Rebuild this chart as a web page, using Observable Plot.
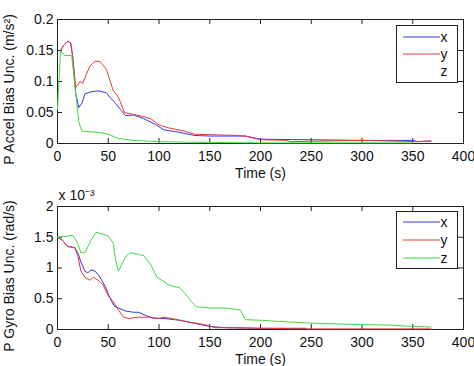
<!DOCTYPE html>
<html>
<head>
<meta charset="utf-8">
<script src="https://cdn.jsdelivr.net/npm/d3@7"></script>
<script src="https://cdn.jsdelivr.net/npm/@observablehq/plot@0.6"></script>
<style>
  html, body { margin: 0; padding: 0; background: #fff; }
  #chart { width: 474px; }
  #chart svg { display: block; }
</style>
</head>
<body>
<div id="chart"></div>
<script>
// ---- Data ----
const accelX_t = [3, 6, 10, 13, 15, 18, 21, 24, 27, 32, 40, 48, 53, 57, 62, 67, 75, 85, 95, 105, 120, 135, 150, 185, 200, 250, 300, 350, 355, 368];
const accelX_v = [0.15, 0.158, 0.165, 0.162, 0.14, 0.08, 0.058, 0.065, 0.08, 0.083, 0.085, 0.082, 0.072, 0.065, 0.055, 0.045, 0.046, 0.04, 0.032, 0.022, 0.018, 0.013, 0.012, 0.012, 0.007, 0.006, 0.005, 0.005, 0.003, 0.004];
const accelY_t = [3, 6, 10, 13, 15, 18, 22, 25, 28, 32, 37, 42, 48, 55, 60, 66, 75, 85, 92, 100, 110, 125, 135, 175, 185, 200, 225, 230, 300, 355, 368];
const accelY_v = [0.15, 0.158, 0.165, 0.162, 0.14, 0.09, 0.1, 0.097, 0.11, 0.125, 0.133, 0.132, 0.12, 0.085, 0.075, 0.05, 0.047, 0.043, 0.04, 0.03, 0.025, 0.02, 0.015, 0.013, 0.012, 0.006, 0.005, 0.003, 0.005, 0.003, 0.004];
const accelZ_t = [0, 3, 7, 14, 16, 18, 21, 24, 40, 50, 60, 75, 100, 130, 200, 350];
const accelZ_v = [0.055, 0.15, 0.142, 0.142, 0.11, 0.08, 0.035, 0.02, 0.018, 0.015, 0.008, 0.005, 0.003, 0.002, 0.001, 0.001];

// gyro values in units of 1e-3 rad/s
const gyroX_t = [0, 5, 10, 17, 20, 23, 27, 30, 33, 37, 42, 47, 52, 56, 60, 67, 75, 80, 88, 95, 105, 120, 135, 150, 165, 200, 245];
const gyroX_v = [1.5, 1.45, 1.35, 1.33, 1.25, 1.1, 0.95, 0.92, 0.97, 0.95, 0.85, 0.7, 0.5, 0.38, 0.35, 0.3, 0.28, 0.28, 0.22, 0.18, 0.18, 0.15, 0.1, 0.05, 0.03, 0.02, 0.02];
const gyroY_t = [0, 5, 10, 17, 20, 23, 27, 32, 35, 40, 45, 50, 55, 60, 65, 70, 80, 90, 100, 105, 115, 130, 145, 155, 200, 250, 368];
const gyroY_v = [1.5, 1.45, 1.35, 1.33, 1.2, 0.95, 0.85, 0.8, 0.85, 0.8, 0.72, 0.55, 0.45, 0.32, 0.2, 0.18, 0.2, 0.2, 0.18, 0.2, 0.17, 0.12, 0.08, 0.03, 0.02, 0.01, 0.01];
const gyroZ_t = [0, 10, 15, 20, 23, 27, 33, 38, 45, 50, 55, 57, 60, 63, 68, 72, 80, 85, 92, 98, 103, 110, 120, 125, 132, 137, 150, 165, 180, 185, 200, 230, 255, 275, 300, 330, 350, 368];
const gyroZ_v = [1.5, 1.52, 1.53, 1.4, 1.25, 1.25, 1.45, 1.58, 1.55, 1.52, 1.4, 1.15, 0.95, 1.05, 1.2, 1.25, 1.22, 1.2, 1.05, 0.85, 0.8, 0.72, 0.68, 0.6, 0.45, 0.37, 0.35, 0.35, 0.32, 0.16, 0.15, 0.12, 0.1, 0.09, 0.08, 0.07, 0.05, 0.04];

const xTicks = [0, 50, 100, 150, 200, 250, 300, 350, 400];
const accelTicks = [0, 0.05, 0.1, 0.15, 0.2];
const gyroTicks = [0, 0.5, 1, 1.5, 2];
const seriesNames = ["x", "y", "z"];
const colors = {x: "#3535e6", y: "#e63a3a", z: "#3fdc3f"};

function rows(t, v, s) { return t.map((d, i) => ({t: d, v: v[i], s})); }

const FONT = "Liberation Sans, Arial, Helvetica, sans-serif";

function panel({data, yDomain, yTicks, yLabel, labelDy, height, marginTop, marginBottom, legendTop, legendRows, legendShow, exponent}) {
  const W = 474, mL = 57, mR = 11;
  const frameH = height - marginTop - marginBottom;
  const frameW = W - mL - mR;
  const fmt = d => String(+d.toFixed(3));
  const marks = [
    Plot.frame({stroke: "#222", strokeWidth: 1}),
    // inward ticks bottom / top
    Plot.tickX(xTicks, {x: d => d, insetTop: frameH - 5, stroke: "#222"}),
    Plot.tickX(xTicks, {x: d => d, insetBottom: frameH - 5, stroke: "#222"}),
    // inward ticks left / right
    Plot.tickY(yTicks, {y: d => d, insetRight: frameW - 5, stroke: "#222"}),
    Plot.tickY(yTicks, {y: d => d, insetLeft: frameW - 5, stroke: "#222"}),
    Plot.axisX({ticks: xTicks, tickSize: 0, tickPadding: 8, tickFormat: fmt, fontSize: 14, fill: "#111", label: null}),
    Plot.axisY({ticks: yTicks, tickSize: 0, tickPadding: 4, tickFormat: fmt, fontSize: 14, fill: "#111", label: null}),
    Plot.line(data, {x: "t", y: "v", z: "s", stroke: d => colors[d.s], strokeWidth: 1, curve: "linear"}),
    Plot.text(["Time (s)"], {frameAnchor: "bottom", dy: 30, lineAnchor: "middle", fontSize: 14, fill: "#111", text: d => d}),
    Plot.text([yLabel], {frameAnchor: "left", dx: -48, dy: labelDy, rotate: -90, textAnchor: "middle", lineAnchor: "middle", fontSize: 14, fill: "#111", text: d => d})
  ];
  if (exponent) {
    marks.push(Plot.text([exponent], {frameAnchor: "top-left", dx: 1, dy: -11, textAnchor: "start", lineAnchor: "middle", fontSize: 14, fill: "#111", text: d => d}));
  }
  const p = Plot.plot({
    width: W, height, marginLeft: mL, marginRight: mR, marginTop, marginBottom,
    style: {fontFamily: FONT, background: "#fff", overflow: "hidden"},
    x: {domain: [0, 400], axis: null},
    y: {domain: yDomain, axis: null},
    marks
  });
  // legend
  const svg = d3.select(p);
  const g = svg.append("g");
  const bx = 396, bw = 61, by = legendTop, bh = 57;
  g.append("rect").attr("x", bx + 0.5).attr("y", by + 0.5).attr("width", bw).attr("height", bh)
    .attr("fill", "#fff").attr("stroke", "#222");
  seriesNames.forEach((s, i) => {
    const yy = legendRows[i];
    if (legendShow[i]) {
      g.append("line").attr("x1", 403).attr("x2", 440).attr("y1", yy).attr("y2", yy)
        .attr("stroke", colors[s]).attr("stroke-width", 1);
    }
    g.append("text").attr("x", 444).attr("y", yy).attr("dy", "0.35em")
      .attr("font-size", 14).attr("font-family", FONT).attr("fill", "#111").text(s);
  });
  return p;
}

const accelData = [...rows(accelX_t, accelX_v, "x"), ...rows(accelY_t, accelY_v, "y"), ...rows(accelZ_t, accelZ_v, "z")];
const gyroData = [...rows(gyroX_t, gyroX_v, "x"), ...rows(gyroY_t, gyroY_v, "y"), ...rows(gyroZ_t, gyroZ_v, "z")];

const chart = document.getElementById("chart");
chart.appendChild(panel({
  data: accelData, yDomain: [0, 0.2], yTicks: accelTicks, labelDy: 8,
  yLabel: "P Accel Bias Unc. (m/s²)", height: 183, marginTop: 19, marginBottom: 40,
  legendTop: 25, legendRows: [37, 54, 71], legendShow: [true, true, false]
}));
chart.appendChild(panel({
  data: gyroData, yDomain: [0, 2], yTicks: gyroTicks, labelDy: 8,
  yLabel: "P Gyro Bias Unc. (rad/s)", height: 183, marginTop: 23, marginBottom: 37,
  legendTop: 28, legendRows: [39, 57, 75], legendShow: [true, true, true],
  exponent: "x 10⁻³"
}));
</script>
</body>
</html>
